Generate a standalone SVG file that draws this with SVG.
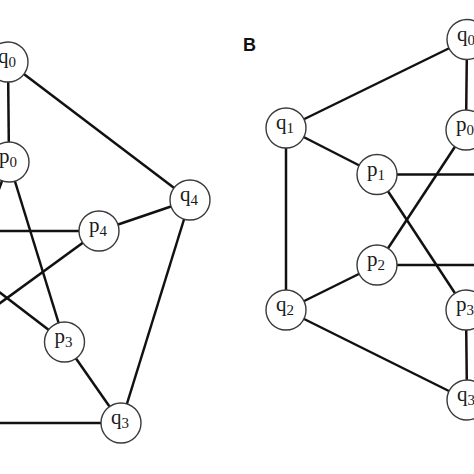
<svg xmlns="http://www.w3.org/2000/svg" width="474" height="474" viewBox="0 0 474 474">
<style>
.e{stroke:#111;stroke-width:2.5;fill:none;stroke-linecap:butt}
.n circle{fill:#fff;stroke:#3a3a3a;stroke-width:1.4}
.n text{font-family:"Liberation Serif","DejaVu Serif",serif;font-size:21px;fill:#1a1a1a;text-anchor:middle}
.s{font-size:15px}
.lbl{font-family:"Liberation Sans",Arial,sans-serif;font-weight:bold;font-size:18px;fill:#111}
</style>
<rect width="474" height="474" fill="#fff"/>
<g id="connectors">
<line class="e" x1="8" y1="62" x2="9" y2="162"/>
<line class="e" x1="8" y1="62" x2="190" y2="200"/>
<line class="e" x1="190" y1="200" x2="99" y2="231"/>
<line class="e" x1="190" y1="200" x2="121" y2="423"/>
<line class="e" x1="9" y1="162" x2="64.5" y2="342"/>
<line class="e" x1="9" y1="162" x2="-30" y2="268"/>
<line class="e" x1="99" y1="231" x2="-30" y2="231"/>
<line class="e" x1="99" y1="231" x2="-30" y2="325"/>
<line class="e" x1="64.5" y1="342" x2="-30" y2="269.7"/>
<line class="e" x1="64.5" y1="342" x2="121" y2="423"/>
<line class="e" x1="121" y1="423" x2="-30" y2="423"/>
<line class="e" x1="467" y1="39.5" x2="286" y2="128"/>
<line class="e" x1="467" y1="39.5" x2="466" y2="130"/>
<line class="e" x1="286" y1="128" x2="377" y2="174.5"/>
<line class="e" x1="286" y1="128" x2="286" y2="310"/>
<line class="e" x1="377" y1="174.5" x2="510" y2="174.5"/>
<line class="e" x1="377" y1="174.5" x2="466" y2="310"/>
<line class="e" x1="466" y1="130" x2="377" y2="265"/>
<line class="e" x1="377" y1="265" x2="510" y2="265"/>
<line class="e" x1="377" y1="265" x2="286" y2="310"/>
<line class="e" x1="286" y1="310" x2="467" y2="400"/>
<line class="e" x1="466" y1="310" x2="467" y2="400"/>
</g>
<text class="lbl" x="243" y="51">B</text>
<g id="A_q0" class="n"><circle cx="8" cy="62" r="20"/><text x="7" y="63">q<tspan class="s" dy="4">0</tspan></text></g>
<g id="A_p0" class="n"><circle cx="9" cy="162" r="20"/><text x="8" y="163">p<tspan class="s" dy="4">0</tspan></text></g>
<g id="A_q4" class="n"><circle cx="190" cy="200" r="20"/><text x="189" y="201">q<tspan class="s" dy="4">4</tspan></text></g>
<g id="A_p4" class="n"><circle cx="99" cy="231" r="20"/><text x="98" y="232">p<tspan class="s" dy="4">4</tspan></text></g>
<g id="A_p3" class="n"><circle cx="64.5" cy="342" r="20"/><text x="63.5" y="343">p<tspan class="s" dy="4">3</tspan></text></g>
<g id="A_q3" class="n"><circle cx="121" cy="423" r="20"/><text x="120" y="424">q<tspan class="s" dy="4">3</tspan></text></g>
<g id="B_q0" class="n"><circle cx="467" cy="39.5" r="20"/><text x="466" y="40.5">q<tspan class="s" dy="4">0</tspan></text></g>
<g id="B_q1" class="n"><circle cx="286" cy="128" r="20"/><text x="285" y="129">q<tspan class="s" dy="4">1</tspan></text></g>
<g id="B_p0" class="n"><circle cx="466" cy="130" r="20"/><text x="465" y="131">p<tspan class="s" dy="4">0</tspan></text></g>
<g id="B_p1" class="n"><circle cx="377" cy="174.5" r="20"/><text x="376" y="175.5">p<tspan class="s" dy="4">1</tspan></text></g>
<g id="B_p2" class="n"><circle cx="377" cy="265" r="20"/><text x="376" y="266">p<tspan class="s" dy="4">2</tspan></text></g>
<g id="B_q2" class="n"><circle cx="286" cy="310" r="20"/><text x="285" y="311">q<tspan class="s" dy="4">2</tspan></text></g>
<g id="B_p3" class="n"><circle cx="466" cy="310" r="20"/><text x="465" y="311">p<tspan class="s" dy="4">3</tspan></text></g>
<g id="B_q3" class="n"><circle cx="467" cy="400" r="20"/><text x="466" y="401">q<tspan class="s" dy="4">3</tspan></text></g>
</svg>
